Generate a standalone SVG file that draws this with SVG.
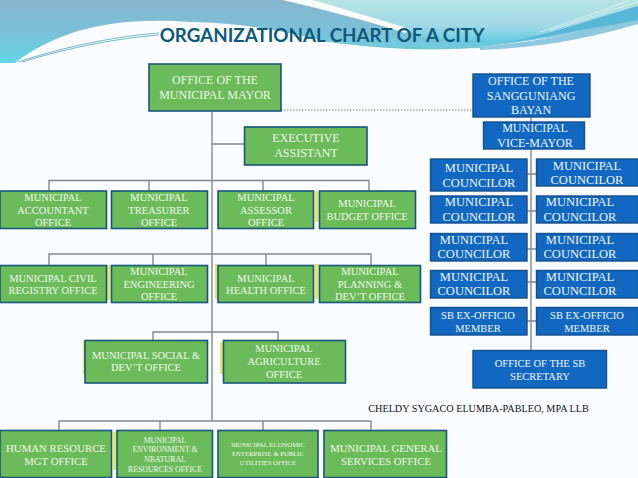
<svg xmlns="http://www.w3.org/2000/svg" width="638" height="478" viewBox="0 0 638 478">
<style>
.g{fill:#6cbb5a;stroke:#17577c;stroke-width:1.6}
.b{fill:#1268c0;stroke:#14508c;stroke-width:1.4}
.y{fill:#e4e36a}
.c{fill:none;stroke:#85888c;stroke-width:1.4}
text{font-family:"Liberation Serif","Times New Roman",serif;text-anchor:middle;fill:#eef8ea}
.bt text{fill:#eef6fd}
.s105{font-size:10.5px}.s12{font-size:12px}.s125{font-size:12.5px}.s108{font-size:10.8px}
</style>
<defs>
<linearGradient id="sky" x1="0" y1="0" x2="0" y2="1"><stop offset="0" stop-color="#86b6d0"/><stop offset="0.5" stop-color="#7cc0d8"/><stop offset="1" stop-color="#60d6e6"/></linearGradient>
<linearGradient id="pale" x1="0" y1="0" x2="0" y2="1"><stop offset="0" stop-color="#b8e5e2"/><stop offset="0.6" stop-color="#a0d8e6"/><stop offset="1" stop-color="#62c8e0"/></linearGradient>
</defs>
<rect width="638" height="478" fill="#fafcff"/>
<g id="background-waves">
<path d="M0 0H638V24C590 30 540 40 490 46C440 52 380 50 320 40C280 30 240 23 190 22C110 16 55 32 15 63H0Z" fill="url(#sky)"/>
<path d="M283 0H638V18C590 30 540 42 490 43C450 44 420 38 400 30C360 16 320 8 283 0Z" fill="url(#pale)"/>
<path d="M283 0C325 10 365 20 405 33L410 29C375 18 340 8 312 0Z" fill="#fbfdfe"/>
<path d="M500 43C550 36 600 16 638 6V20C590 28 545 38 500 43Z" fill="#58b6d6"/>
<path d="M318 40C370 48 430 50 490 47" fill="none" stroke="#7ec4c8" stroke-width="1"/>
<path d="M18 62C70 45 120 36 159 33M22 62C70 47 120 38 159 35" fill="none" stroke="#4ea8b8" stroke-width="0.8"/>
<path d="M540 32C575 20 610 8 630 0M550 30C585 20 615 8 638 2" fill="none" stroke="#e0f4f4" stroke-width="0.8"/>
<path d="M480 50C540 48 590 38 638 24V20C590 30 540 42 480 47Z" fill="#8ec9de"/>
</g>
<text id="title" x="322" y="42" style="font-family:Lato,'Open Sans',sans-serif;font-weight:700;font-size:18.8px;fill:#0e5a78">ORGANIZATIONAL CHART OF A CITY</text>
<g id="connectors">
<path class="c" d="M212 112V421M212 144H244M49 191V180.500H369V191M149 180.500V191M263 180.500V191M49 265V254H371V265M153 254V265M266 254V265M153 340V332H278V340M59 430V421H371V430M160 421V430M263 421V430"/>
<path d="M281 110H473" fill="none" stroke="#777" stroke-width="1" stroke-dasharray="1.500 1.500"/>
<path class="c" d="M531 117V350M527 174H536M527 211H536M527 249H536M527 282H536M527 321H536"/>
</g>
<g id="accents">
<rect class="y" x="315" y="191" width="3.500" height="31"/>
<rect class="y" x="107" y="265" width="3.500" height="35"/>
<rect class="y" x="215" y="264" width="3" height="35"/>
<rect class="y" x="315" y="264" width="3.500" height="35"/>
<rect class="y" x="83" y="342" width="2.500" height="32"/>
<rect class="y" x="220" y="342" width="3" height="32"/>
<rect class="y" x="113" y="432" width="3.500" height="38"/>
</g>
<g id="mayor"><rect class="g" x="149" y="64" width="132" height="47"/><text class="s12" x="215" y="84">OFFICE OF THE</text><text class="s12" x="215" y="99">MUNICIPAL MAYOR</text></g>
<g id="executive"><rect class="g" x="244.500" y="127" width="122.500" height="38"/><text class="s12" x="306" y="142">EXECUTIVE</text><text class="s12" x="306" y="157">ASSISTANT</text></g>
<g id="accountant"><rect class="g" x="0" y="191" width="106.500" height="37.500"/><text class="s105" x="53" y="201">MUNICIPAL</text><text class="s105" x="53" y="213.500">ACCOUNTANT</text><text class="s105" x="53" y="226">OFFICE</text></g>
<g id="treasurer"><rect class="g" x="111.500" y="191" width="96" height="37.500"/><text class="s105" x="159" y="201">MUNICIPAL</text><text class="s105" x="159" y="213.500">TREASURER</text><text class="s105" x="159" y="226">OFFICE</text></g>
<g id="assessor"><rect class="g" x="218" y="191" width="95.500" height="37.500"/><text class="s105" x="266" y="201">MUNICIPAL</text><text class="s105" x="266" y="213.500">ASSESSOR</text><text class="s105" x="266" y="226">OFFICE</text></g>
<g id="budget"><rect class="g" x="319.500" y="191" width="96" height="37.500"/><text class="s105" x="367" y="207">MUNICIPAL</text><text class="s105" x="367" y="219.500">BUDGET OFFICE</text></g>
<g id="civil"><rect class="g" x="0" y="265.500" width="106.500" height="37"/><text class="s105" x="53" y="281.500">MUNICIPAL CIVIL</text><text class="s105" x="53" y="294">REGISTRY OFFICE</text></g>
<g id="engineering"><rect class="g" x="111.500" y="265.500" width="96" height="37"/><text class="s105" x="159" y="275">MUNICIPAL</text><text class="s105" x="159" y="287.500">ENGINEERING</text><text class="s105" x="159" y="300">OFFICE</text></g>
<g id="health"><rect class="g" x="218" y="265.500" width="95.500" height="37"/><text class="s105" x="266" y="281.500">MUNICIPAL</text><text class="s105" x="266" y="294">HEALTH OFFICE</text></g>
<g id="planning"><rect class="g" x="319.500" y="265.500" width="101" height="37"/><text class="s105" x="370" y="275">MUNICIPAL</text><text class="s105" x="370" y="287.500">PLANNING &amp;</text><text class="s105" x="370" y="300">DEV’T OFFICE</text></g>
<g id="social"><rect class="g" x="85" y="340.500" width="122.500" height="42.500"/><text class="s105" x="146" y="358.500">MUNICIPAL SOCIAL &amp;</text><text class="s105" x="146" y="371">DEV’T OFFICE</text></g>
<g id="agriculture"><rect class="g" x="223.500" y="340.500" width="122" height="42.500"/><text class="s105" x="284" y="352">MUNICIPAL</text><text class="s105" x="284" y="364.500">AGRICULTURE</text><text class="s105" x="284" y="377.500">OFFICE</text></g>
<g id="hr"><rect class="g" x="0" y="430.500" width="111.500" height="47"/><text class="s108" x="56" y="451.500">HUMAN RESOURCE</text><text class="s108" x="56" y="464.500">MGT OFFICE</text></g>
<g id="environment"><rect class="g" x="117" y="430.500" width="95.500" height="47"/><g style="font-size:7.800px"><text x="165" y="442.500">MUNICIPAL</text><text x="165" y="452">ENVIRONMENT &amp;</text><text x="165" y="461.500">NBATURAL</text><text x="165" y="471.500">RESOURCES OFFICE</text></g></g>
<g id="economic"><rect class="g" x="218" y="430.500" width="100" height="47"/><g style="font-size:6.700px"><text x="268" y="447">MUNICIPAL ECONOMIC</text><text x="268" y="455.800">ENTERPRISE &amp; PUBLIC</text><text x="268" y="464.500">UTILITIES OFFICE</text></g></g>
<g id="general"><rect class="g" x="324" y="430.500" width="122.500" height="47"/><text class="s108" x="386" y="451.500">MUNICIPAL GENERAL</text><text class="s108" x="386" y="464.500">SERVICES OFFICE</text></g>
<g class="bt">
<g id="sanggunian"><rect class="b" x="473" y="74" width="117" height="43"/><text class="s12" x="531" y="85">OFFICE OF THE</text><text class="s12" x="531" y="99.500">SANGGUNIANG</text><text class="s12" x="531" y="114">BAYAN</text></g>
<g id="vicemayor"><rect class="b" x="483.500" y="122" width="101" height="27"/><text class="s12" x="535" y="132">MUNICIPAL</text><text class="s12" x="535" y="147">VICE-MAYOR</text></g>
<g id="councilor1"><rect class="b" x="430.500" y="159" width="96.500" height="32"/><text class="s125" x="479" y="172">MUNICIPAL</text><text class="s125" x="479" y="186.500">COUNCILOR</text></g>
<g id="councilor2"><rect class="b" x="536.500" y="159" width="102" height="27"/><text class="s125" x="587" y="169.500">MUNICIPAL</text><text class="s125" x="587" y="184">COUNCILOR</text></g>
<g id="councilor3"><rect class="b" x="430.500" y="196" width="96.500" height="27"/><text class="s125" x="479" y="206">MUNICIPAL</text><text class="s125" x="479" y="221">COUNCILOR</text></g>
<g id="councilor4"><rect class="b" x="536.500" y="196" width="102" height="27"/><text class="s125" x="580" y="206">MUNICIPAL</text><text class="s125" x="580" y="221">COUNCILOR</text></g>
<g id="councilor5"><rect class="b" x="430.500" y="233.500" width="96.500" height="27.500"/><text class="s125" x="474" y="244">MUNICIPAL</text><text class="s125" x="474" y="258">COUNCILOR</text></g>
<g id="councilor6"><rect class="b" x="536.500" y="233.500" width="102" height="27.500"/><text class="s125" x="580" y="244">MUNICIPAL</text><text class="s125" x="580" y="258">COUNCILOR</text></g>
<g id="councilor7"><rect class="b" x="430.500" y="270.500" width="96.500" height="27.500"/><text class="s125" x="474" y="281">MUNICIPAL</text><text class="s125" x="474" y="295">COUNCILOR</text></g>
<g id="councilor8"><rect class="b" x="536.500" y="270.500" width="102" height="27.500"/><text class="s125" x="580" y="281">MUNICIPAL</text><text class="s125" x="580" y="295">COUNCILOR</text></g>
<g id="exofficio1"><rect class="b" x="430.500" y="307.500" width="96.500" height="27.500"/><text class="s105" x="478" y="318.500">SB EX-OFFICIO</text><text class="s105" x="478" y="331.500">MEMBER</text></g>
<g id="exofficio2"><rect class="b" x="536.500" y="307.500" width="102" height="27.500"/><text class="s105" x="587" y="318.500">SB EX-OFFICIO</text><text class="s105" x="587" y="331.500">MEMBER</text></g>
<g id="secretary"><rect class="b" x="473" y="350.500" width="133.500" height="37.500"/><text class="s105" x="540" y="366.500">OFFICE OF THE SB</text><text class="s105" x="540" y="379.500">SECRETARY</text></g>
</g>
<text id="author" x="478.500" y="412" style="fill:#111;font-size:10.2px">CHELDY SYGACO ELUMBA-PABLEO, MPA LLB</text>
</svg>
